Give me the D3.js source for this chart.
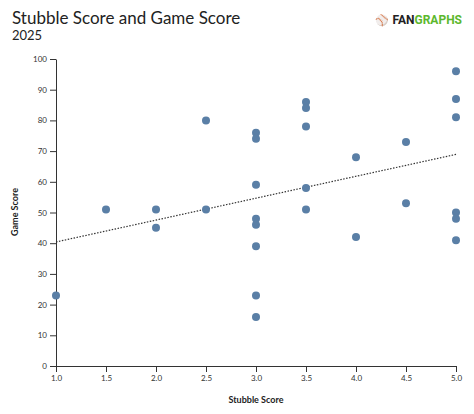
<!DOCTYPE html>
<html><head><meta charset="utf-8">
<script src="https://cdn.jsdelivr.net/npm/d3@7"></script>
<style>body{margin:0;background:#fff;font-family:Lato,sans-serif}</style>
</head><body>
<script>
// stubble score vs game score, 2025
const stubble = [1.0,1.5,2.0,2.0,2.5,2.5,3.0,3.0,3.0,3.0,3.0,3.0,3.0,3.0,3.5,3.5,3.5,3.5,3.5,4.0,4.0,4.5,4.5,5.0,5.0,5.0,5.0,5.0,5.0];
const game    = [23,51,51,45,80,51,76,74,59,48,46,39,23,16,86,84,78,58,51,68,42,73,53,96,87,81,50,48,41];
const xTicks = [1.0,1.5,2.0,2.5,3.0,3.5,4.0,4.5,5.0];
const yTicks = [0,10,20,30,40,50,60,70,80,90,100];

const W = 474, H = 414;
const svg = d3.select("body").append("svg").attr("width", W).attr("height", H);
const x = d3.scaleLinear().domain([1, 5]).range([56, 456]);
const y = d3.scaleLinear().domain([0, 100]).range([366, 59]);

svg.append("text").attr("x", 12).attr("y", 24).attr("font-size", 17).attr("fill", "#222").text("Stubble Score and Game Score");
svg.append("text").attr("x", 12).attr("y", 40).attr("font-size", 13).attr("fill", "#222").text("2025");
const logo = svg.append("text").attr("x", 462).attr("y", 24).attr("text-anchor", "end").attr("font-size", 12).attr("font-weight", "bold").attr("font-family", "Roboto, sans-serif");
logo.append("tspan").attr("fill", "#222").text("FAN");
logo.append("tspan").attr("fill", "#5cb82e").text("GRAPHS");
svg.append("text").attr("x", 375).attr("y", 24).attr("font-size", 11).attr("fill", "#5cb82e").attr("font-weight", "bold").text("⚾");

const ax = svg.append("g").attr("transform", "translate(0,366)")
  .call(d3.axisBottom(x).tickValues(xTicks).tickFormat(d3.format(".1f")).tickSizeOuter(0));
const ay = svg.append("g").attr("transform", "translate(56,0)")
  .call(d3.axisLeft(y).tickValues(yTicks).tickSizeOuter(0));
[ax, ay].forEach(g => {
  g.selectAll("text").attr("font-size", 8).attr("fill", "#333").attr("font-family", "Lato, sans-serif");
  g.selectAll("line,path").attr("stroke", "#333");
});

svg.append("text").attr("x", 256).attr("y", 403).attr("text-anchor", "middle").attr("font-size", 9).attr("font-weight", "bold").attr("fill", "#222").text("Stubble Score");
svg.append("text").attr("transform", "translate(18,212) rotate(-90)").attr("text-anchor", "middle").attr("font-size", 9).attr("font-weight", "bold").attr("fill", "#222").text("Game Score");

// least-squares trend line
const mx = d3.mean(stubble), my = d3.mean(game);
const b = d3.sum(stubble, (v, i) => (v - mx) * (game[i] - my)) / d3.sum(stubble, v => (v - mx) ** 2);
const a = my - b * mx;
svg.append("line").attr("x1", x(1)).attr("y1", y(a + b)).attr("x2", x(5)).attr("y2", y(a + 5 * b))
  .attr("stroke", "#333").attr("stroke-dasharray", "1.5,1.5").attr("stroke-width", 1.2);

svg.selectAll("circle").data(stubble).enter().append("circle")
  .attr("cx", d => x(d)).attr("cy", (d, i) => y(game[i])).attr("r", 4)
  .attr("fill", "#5a7fa6");
</script>
</body></html>
